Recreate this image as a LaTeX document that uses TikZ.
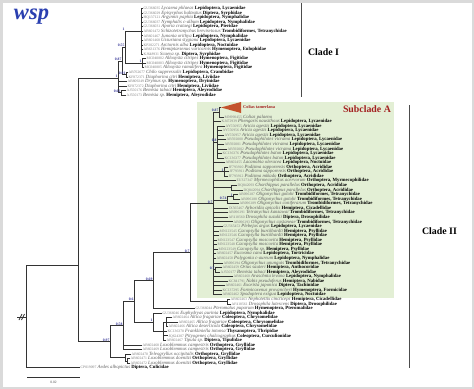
\documentclass[tikz,border=0pt]{standalone}
\usepackage{fontspec}
\setmainfont{Liberation Serif}
\usetikzlibrary{positioning, calc}

\definecolor{wspblue}{HTML}{2A3FB0}
\definecolor{suppblue}{HTML}{3A3A9A}
\definecolor{accgray}{HTML}{808080}
\definecolor{spgray}{HTML}{5C5C5C}
\definecolor{subfill}{HTML}{E3EFD5}
\definecolor{subred}{HTML}{A32020}
\definecolor{tamerred}{HTML}{C4532D}
\definecolor{framegray}{HTML}{DADADA}

% accession, species, order and family of one leaf
\newcommand{\taxon}[3]{{\fontsize{5.3}{5.3}\selectfont\color{accgray}#1}\ {\itshape\color{spgray}#2}\ \textbf{#3}}

\begin{document}
\begin{tikzpicture}[
    x=0.05cm, y=-0.05cm, % one unit is one pixel of the figure
    branch/.style={draw=black!80, line width=1.1pt},
    leaf/.style={anchor=west, inner xsep=0.8pt, inner ysep=0pt, font=\fontsize{6.8}{6.8}\selectfont},
    supp/.style={anchor=south east, inner xsep=0.6pt, inner ysep=0.4pt, text=suppblue, font=\fontsize{5.3}{5.3}\selectfont\bfseries},
    cladebar/.style={draw=black!70, line width=1.2pt},
    cladelabel/.style={anchor=west, inner sep=0pt, font=\fontsize{14}{14}\selectfont\bfseries}
]
    \useasboundingbox (0,0) rectangle (474,389);
    \fill[framegray] (0,0) rectangle (474,389);
    \fill[white] (2.5,2.5) rectangle (472,386.5);

    % Subclade A background and the collapsed Colias tamerlana clade
    \fill[subfill] (197,102) rectangle (394,298);
    \coordinate (colApex) at (221,107.5);
    \fill[tamerred] (colApex) -- (241,102) -- (241,113) -- cycle;
    \node[leaf, text=subred, font=\fontsize{6.2}{6.2}\selectfont\bfseries] (colLab) at (242.5,107.5) {Colias tamerlana};

    \node[text=wspblue, font=\fontsize{32}{32}\selectfont\bfseries\itshape] (wsp) at (31.5,16.5) {wsp};

    % internal nodes, Clade I
    \coordinate (combA) at (141,31.30);
    \coordinate (nAllo) at (142,63.22);
    \coordinate (n055) at (125,47.26);
    \coordinate (n091) at (126,74.62);
    \coordinate (n087) at (122,60.94);
    \coordinate (n062) at (121,92.86);
    \coordinate (rootI) at (118,78);
    % internal nodes, Clade II
    \coordinate (nCol) at (219,112.25);
    \coordinate (n08) at (217,142.08);
    \coordinate (nPod) at (224,171.72);
    \coordinate (nCho) at (231,187.68);
    \coordinate (nOl1) at (233,196.80);
    \coordinate (n074) at (227,200.22);
    \coordinate (n07b) at (215,269.76);
    \coordinate (nSubA) at (213,203.5);
    \coordinate (nDro) at (227,301.68);
    \coordinate (n07) at (190,252.6);
    \coordinate (n069) at (153,280.6);
    \coordinate (nAltica) at (166,322.2);
    \coordinate (nAlt) at (163,331.3);
    \coordinate (nEA) at (153,322.2);
    \coordinate (n06) at (134,301.4);
    \coordinate (n058) at (123,325.5);
    \coordinate (nLd) at (127,360.96);
    \coordinate (nGry) at (125,357.5);
    \coordinate (n097) at (110,341.5);
    \coordinate (nIn) at (78,265);
    \coordinate (root) at (26,317);
    \coordinate (rootStub) at (17,317);

    % leaves, Clade I
    \node[leaf] (c1) at (143,8.50) {\taxon{GU366035}{Lycaena phlaeas}{Lepidoptera, Lycaenidae}};
    \node[leaf] (c2) at (143,13.06) {\taxon{GU366029}{Episyrphus balteatus}{Diptera, Syrphidae}};
    \node[leaf] (c3) at (143,17.62) {\taxon{HQ137121}{Argynnis paphia}{Lepidoptera, Nymphalidae}};
    \node[leaf] (c4) at (143,22.18) {\taxon{GU366037}{Nymphalis c-album}{Lepidoptera, Nymphalidae}};
    \node[leaf] (c5) at (143,26.74) {\taxon{GU366031}{Aporia crataegi}{Lepidoptera, Pieridae}};
    \node[leaf] (c6) at (143,31.30) {\taxon{AB601472}{Schizotetranychus brevisetosus}{Trombidiformes, Tetranychidae}};
    \node[leaf] (c7) at (143,35.86) {\taxon{AB601467}{Junonia orithya}{Lepidoptera, Nymphalidae}};
    \node[leaf] (c8) at (143,40.42) {\taxon{AB601468}{Ussuriana stygiana}{Lepidoptera, Lycaenidae}};
    \node[leaf] (c9) at (143,44.98) {\taxon{KP202271}{Arctornis alba}{Lepidoptera, Noctuidae}};
    \node[leaf] (c10) at (143,49.54) {\taxon{AB631376}{Hemiptarsenus varicornis}{Hymenoptera, Eulophidae}};
    \node[leaf] (c11) at (143,54.10) {\taxon{KJ648931}{Scaeva sp.}{Diptera, Syrphidae}};
    \node[leaf] (c12) at (146,58.66) {\taxon{MG940802}{Alloxysta citripes}{Hymenoptera, Figitidae}};
    \node[leaf] (c13) at (146,63.22) {\taxon{MG940803}{Alloxysta citripes}{Hymenoptera, Figitidae}};
    \node[leaf] (c14) at (144,67.78) {\taxon{MG940805}{Alloxysta ramulifera}{Hymenoptera, Figitidae}};
    \node[leaf] (c15) at (128,72.34) {\taxon{AB762677}{Chilo suppressalis}{Lepidoptera, Crambidae}};
    \node[leaf] (c16) at (128,76.90) {\taxon{KF872371}{Diaphorina citri}{Hemiptera, Liviidae}};
    \node[leaf] (c17) at (127,81.46) {\taxon{AB809249}{Dryinus sp.}{Hymenoptera, Dryinidae}};
    \node[leaf] (c18) at (127,86.02) {\taxon{KF872372}{Diaphorina citri}{Hemiptera, Liviidae}};
    \node[leaf] (c19) at (126,90.58) {\taxon{AJ550176}{Bemisia tabaci}{Hemiptera, Aleyrodidae}};
    \node[leaf] (c20) at (126,95.14) {\taxon{AJ550173}{Bemisia sp.}{Hemiptera, Aleyrodidae}};

    % leaves, Clade II
    \node[leaf] (k1) at (224,117.00) {\taxon{MN990455}{Colias palaeno}{}};
    \node[leaf] (k2) at (221,121.56) {\taxon{KJ472939}{Phengaris nausithous}{Lepidoptera, Lycaenidae}};
    \node[leaf] (k3) at (225,126.12) {\taxon{AY556955}{Aricia agestis}{Lepidoptera, Lycaenidae}};
    \node[leaf] (k4) at (222,130.68) {\taxon{AY556956}{Aricia agestis}{Lepidoptera, Lycaenidae}};
    \node[leaf] (k5) at (224,135.24) {\taxon{AY556957}{Aricia agestis}{Lepidoptera, Lycaenidae}};
    \node[leaf] (k6) at (226,139.80) {\taxon{AB592000}{Pseudophilotes vicrama}{Lepidoptera, Lycaenidae}};
    \node[leaf] (k7) at (224,144.36) {\taxon{AB592001}{Pseudophilotes vicrama}{Lepidoptera, Lycaenidae}};
    \node[leaf] (k8) at (227,148.92) {\taxon{AB592002}{Pseudophilotes vicrama}{Lepidoptera, Lycaenidae}};
    \node[leaf] (k9) at (222,153.48) {\taxon{KC136376}{Pseudophilotes baton}{Lepidoptera, Lycaenidae}};
    \node[leaf] (k10) at (224,158.04) {\taxon{KC136377}{Pseudophilotes baton}{Lepidoptera, Lycaenidae}};
    \node[leaf] (k11) at (225,162.60) {\taxon{AB602455}{Lacanobia oleracea}{Lepidoptera, Noctuidae}};
    \node[leaf] (k12) at (228,167.16) {\taxon{JF793910}{Podisma sapporensis}{Orthoptera, Acrididae}};
    \node[leaf] (k13) at (229,171.72) {\taxon{JF793911}{Podisma sapporensis}{Orthoptera, Acrididae}};
    \node[leaf] (k14) at (228,176.28) {\taxon{JF793912}{Podisma mikado}{Orthoptera, Acrididae}};
    \node[leaf] (k15) at (236,180.84) {\taxon{EU327347}{Myrmecophilus acervorum}{Orthoptera, Myrmecophilidae}};
    \node[leaf] (k16) at (237,185.40) {\taxon{DQ842093}{Chorthippus parallelus}{Orthoptera, Acrididae}};
    \node[leaf] (k17) at (243,189.96) {\taxon{DQ842094}{Chorthippus parallelus}{Orthoptera, Acrididae}};
    \node[leaf] (k18) at (238,194.52) {\taxon{AB096187}{Oligonychus gotohi}{Trombidiformes, Tetranychidae}};
    \node[leaf] (k19) at (240,199.08) {\taxon{AB096188}{Oligonychus gotohi}{Trombidiformes, Tetranychidae}};
    \node[leaf] (k20) at (239,203.64) {\taxon{AB096189}{Oligonychus coniferarum}{Trombidiformes, Tetranychidae}};
    \node[leaf] (k21) at (228,208.20) {\taxon{JX565467}{Arboridia apicalis}{Hemiptera, Cicadellidae}};
    \node[leaf] (k22) at (228,212.76) {\taxon{AB096191}{Tetranychus kanzawai}{Trombidiformes, Tetranychidae}};
    \node[leaf] (k23) at (228,217.32) {\taxon{AF418560}{Drosophila suzukii}{Diptera, Drosophilidae}};
    \node[leaf] (k24) at (233,221.88) {\taxon{AB096193}{Oligonychus castaneae}{Trombidiformes, Tetranychidae}};
    \node[leaf] (k25) at (223,226.44) {\taxon{GU565453}{Plebejus argus}{Lepidoptera, Lycaenidae}};
    \node[leaf] (k26) at (219,231.00) {\taxon{MN123545}{Cacopsylla burckhardti}{Hemiptera, Psyllidae}};
    \node[leaf] (k27) at (219,235.56) {\taxon{MN123546}{Cacopsylla burckhardti}{Hemiptera, Psyllidae}};
    \node[leaf] (k28) at (217,240.12) {\taxon{MN123547}{Cacopsylla moscovita}{Hemiptera, Psyllidae}};
    \node[leaf] (k29) at (217,244.68) {\taxon{MN123548}{Cacopsylla moscovita}{Hemiptera, Psyllidae}};
    \node[leaf] (k30) at (218,249.24) {\taxon{MN123549}{Cacopsylla sp.}{Hemiptera, Psyllidae}};
    \node[leaf] (k31) at (216,253.80) {\taxon{AB602457}{Eucosma cana}{Lepidoptera, Tortricidae}};
    \node[leaf] (k32) at (216,258.36) {\taxon{AB602458}{Polygonia c-aureum}{Lepidoptera, Nymphalidae}};
    \node[leaf] (k33) at (223,262.92) {\taxon{AB096194}{Oligonychus ununguis}{Trombidiformes, Tetranychidae}};
    \node[leaf] (k34) at (222,267.48) {\taxon{AB602459}{Orius sauteri}{Hemiptera, Anthocoridae}};
    \node[leaf] (k35) at (220,272.04) {\taxon{AJ550177}{Bemisia tabaci}{Hemiptera, Aleyrodidae}};
    \node[leaf] (k36) at (233,276.60) {\taxon{AB602460}{Araschnia levana}{Lepidoptera, Nymphalidae}};
    \node[leaf] (k37) at (228,281.16) {\taxon{KC841791}{Nabis pseudoferus}{Hemiptera, Nabidae}};
    \node[leaf] (k38) at (225,285.72) {\taxon{AB602461}{Exorista japonica}{Diptera, Tachinidae}};
    \node[leaf] (k39) at (222,290.28) {\taxon{KC137295}{Formicoxenus provancheri}{Hymenoptera, Formicidae}};
    \node[leaf] (k40) at (222,294.84) {\taxon{AB602462}{Spodoptera exigua}{Lepidoptera, Noctuidae}};
    \node[leaf] (k41) at (230,299.40) {\taxon{AB602463}{Nephotettix cincticeps}{Hemiptera, Cicadellidae}};
    \node[leaf] (k42) at (231,303.96) {\taxon{AF418561}{Drosophila lutescens}{Diptera, Drosophilidae}};
    \node[leaf] (k43) at (195,308.52) {\taxon{GU366044}{Pteromalus puparum}{Hymenoptera, Pteromalidae}};
    \node[leaf] (k44) at (162,313.08) {\taxon{GU366046}{Euphydryas aurinia}{Lepidoptera, Nymphalidae}};
    \node[leaf] (k45) at (172,317.64) {\taxon{AB602464}{Altica fragariae}{Coleoptera, Chrysomelidae}};
    \node[leaf] (k46) at (178,322.20) {\taxon{AB602465}{Altica fragariae}{Coleoptera, Chrysomelidae}};
    \node[leaf] (k47) at (168,326.76) {\taxon{AB602466}{Altica deserticola}{Coleoptera, Chrysomelidae}};
    \node[leaf] (k48) at (167,331.32) {\taxon{KC136370}{Frankliniella intonsa}{Thysanoptera, Thripidae}};
    \node[leaf] (k49) at (168,335.88) {\taxon{JQ624307}{Pityogenes chalcographus}{Coleoptera, Curculionidae}};
    \node[leaf] (k50) at (166,340.44) {\taxon{AB602467}{Tipula sp.}{Diptera, Tipulidae}};
    \node[leaf] (k51) at (142,345.00) {\taxon{AB602468}{Loxoblemmus campestris}{Orthoptera, Gryllidae}};
    \node[leaf] (k52) at (142,349.56) {\taxon{AB602469}{Loxoblemmus campestris}{Orthoptera, Gryllidae}};
    \node[leaf] (k53) at (131,354.12) {\taxon{AB602470}{Teleogryllus occipitalis}{Orthoptera, Gryllidae}};
    \node[leaf] (k54) at (130,358.68) {\taxon{AB602471}{Loxoblemmus doenitzi}{Orthoptera, Gryllidae}};
    \node[leaf] (k55) at (130,363.24) {\taxon{AB602472}{Loxoblemmus doenitzi}{Orthoptera, Gryllidae}};
    \node[leaf] (k56) at (80,367.80) {\taxon{CP019097}{Aedes albopictus}{Diptera, Culicidae}};

    % branches, Clade I
    \foreach \c in {c1,c2,c3,c4,c5,c6,c7,c8,c9,c10,c11}
        \draw[branch] (combA) |- (\c.west);
    \foreach \c in {c12,c13,c14}
        \draw[branch] (nAllo) |- (\c.west);
    \draw[branch] (n055) |- (combA);
    \draw[branch] (n055) |- (nAllo);
    \draw[branch] (n091) |- (c15.west);
    \draw[branch] (n091) |- (c16.west);
    \draw[branch] (n087) |- (n055);
    \draw[branch] (n087) |- (n091);
    \draw[branch] (n062) |- (c19.west);
    \draw[branch] (n062) |- (c20.west);
    \draw[branch] (rootI) |- (n087);
    \draw[branch] (rootI) |- (c17.west);
    \draw[branch] (rootI) |- (c18.west);
    \draw[branch] (rootI) |- (n062);

    % branches, Subclade A
    \draw[branch] (nCol) |- (colApex);
    \draw[branch] (nCol) |- (k1.west);
    \foreach \c in {k3,k4,k5,k6,k7,k8,k9,k10}
        \draw[branch] (n08) |- (\c.west);
    \foreach \c in {k12,k13,k14}
        \draw[branch] (nPod) |- (\c.west);
    \draw[branch] (nCho) |- (k16.west);
    \draw[branch] (nCho) |- (k17.west);
    \draw[branch] (nOl1) |- (k18.west);
    \draw[branch] (nOl1) |- (k19.west);
    \draw[branch] (n074) |- (nOl1);
    \draw[branch] (n074) |- (k20.west);
    \draw[branch] (n07b) |- (k34.west);
    \draw[branch] (n07b) |- (k35.west);
    \foreach \c in {nCol,n08,nPod,nCho,n074,n07b}
        \draw[branch] (nSubA) |- (\c);
    \foreach \c in {k2,k11,k15,k21,k22,k23,k24,k25,k26,k27,k28,k29,k30,k31,k32,k33,k36,k37,k38,k39,k40}
        \draw[branch] (nSubA) |- (\c.west);

    % branches, rest of Clade II and root
    \draw[branch] (nDro) |- (k41.west);
    \draw[branch] (nDro) |- (k42.west);
    \draw[branch] (n07) |- (nSubA);
    \draw[branch] (n07) |- (nDro);
    \draw[branch] (n069) |- (n07);
    \draw[branch] (n069) |- (k43.west);
    \foreach \c in {k45,k46,k47}
        \draw[branch] (nAltica) |- (\c.west);
    \draw[branch] (nAlt) |- (nAltica);
    \foreach \c in {k48,k49,k50}
        \draw[branch] (nAlt) |- (\c.west);
    \draw[branch] (nEA) |- (k44.west);
    \draw[branch] (nEA) |- (nAlt);
    \draw[branch] (n06) |- (n069);
    \draw[branch] (n06) |- (nEA);
    \draw[branch] (n058) |- (n06);
    \draw[branch] (n058) |- (k51.west);
    \draw[branch] (n058) |- (k52.west);
    \draw[branch] (nLd) |- (k54.west);
    \draw[branch] (nLd) |- (k55.west);
    \draw[branch] (nGry) |- (k53.west);
    \draw[branch] (nGry) |- (nLd);
    \draw[branch] (n097) |- (n058);
    \draw[branch] (n097) |- (nGry);
    \draw[branch] (nIn) |- (rootI);
    \draw[branch] (nIn) |- (n097);
    \draw[branch] (root) |- (nIn);
    \draw[branch] (root) |- (k56.west);
    \draw[branch] (rootStub) -- (root);
    \draw[branch] ($(rootStub)+(2,3)$) -- ++(3,-6);
    \draw[branch] ($(rootStub)+(4.5,3)$) -- ++(3,-6);

    % support values
    \node[supp] (s1a) at (n055 |- combA) {1};
    \node[supp] (s055) at (n055) {0.55};
    \node[supp] (s1b) at (nAllo) {1};
    \node[supp] (s091) at (n091) {0.91};
    \node[supp] (s087) at (n087) {0.87};
    \node[supp] (s062) at (n062) {0.62};
    \node[supp] (s1c) at (rootI) {1};
    \node[supp] (s087b) at (nCol) {0.87};
    \node[supp] (s08) at (n08) {0.8};
    \node[supp] (s1d) at (nPod) {1};
    \node[supp] (s074) at (n074) {0.74};
    \node[supp] (s1e) at (nOl1) {1};
    \node[supp] (s07a) at (nSubA) {0.7};
    \node[supp] (s07b) at (n07b) {0.7};
    \node[supp] (s07c) at (n07) {0.7};
    \node[supp] (s069) at (n069) {0.69};
    \node[supp] (s06) at (n06) {0.6};
    \node[supp] (s1f) at (nEA) {1};
    \node[supp] (s058) at (n058) {0.58};
    \node[supp] (s097) at (n097) {0.97};

    % clade bars and names
    \coordinate (barItop) at (301,3);
    \coordinate (barIbot) at (301,97);
    \coordinate (barIItop) at (409,105);
    \coordinate (barIIbot) at (409,368);
    \draw[cladebar] (barItop) -- (barIbot);
    \draw[cladebar] (barIItop) -- (barIIbot);
    \node[cladelabel] (cladeI) at (308,52) {Clade I};
    \node[cladelabel] (cladeII) at (422,231) {Clade II};
    \node[cladelabel, anchor=east, text=subred] (subA) at (391,109) {Subclade A};

    % scale bar
    \coordinate (sbL) at (27,377);
    \coordinate (sbR) at (80,377);
    \draw[branch] (sbL) -- (sbR);
    \node[font=\fontsize{5}{5}\selectfont, text=black!70] (sbLab) at (53.5,382.5) {0.02};
\end{tikzpicture}
\end{document}
